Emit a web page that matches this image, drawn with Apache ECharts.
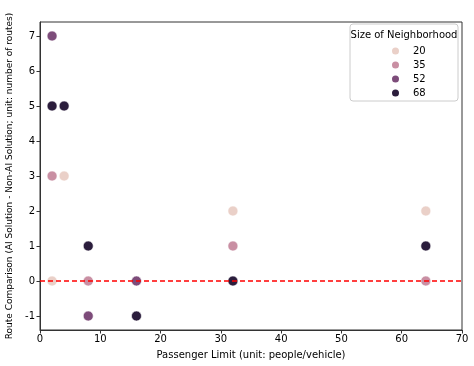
<!DOCTYPE html>
<html><head><meta charset="utf-8">
<script src="https://cdn.jsdelivr.net/npm/echarts@6/dist/echarts.min.js"></script>
<style>html,body{margin:0;padding:0;background:#fff}#c{width:474px;height:366px}</style>
</head><body><div id="c"></div>
<script>
const sizes = ['20', '35', '52', '68'];
const colors = ['#ead0c8', '#c98fa3', '#7d4c7a', '#2b1d3c'];
const s20 = [[2, 0], [4, 3], [32, 2], [64, 2]];
const s35 = [[2, 3], [8, 0], [32, 1], [64, 0]];
const s52 = [[2, 7], [8, -1], [16, 0]];
const s68 = [[2, 5], [4, 5], [8, 1], [16, -1], [32, 0], [64, 1]];
const seriesData = [s20, s35, s52, s68];
const xTicks = [0, 10, 20, 30, 40, 50, 60, 70];
const yTicks = [-1, 0, 1, 2, 3, 4, 5, 6, 7];
const refY = 0;

const font = 'DejaVu Sans';
const chart = echarts.init(document.getElementById('c'), null, {renderer: 'canvas'});
const series = seriesData.map((d, i) => ({
  name: sizes[i], type: 'scatter', data: d, symbolSize: 10, z: 3,
  itemStyle: {color: colors[i], borderColor: '#fff', borderWidth: 0.6, opacity: 1}
}));
series.push({
  type: 'line', data: [], silent: true, z: 2,
  markLine: {symbol: 'none', silent: true, label: {show: false},
    lineStyle: {color: '#ff0000', type: [5, 3], width: 1.5},
    data: [{yAxis: refY}]}
});
chart.setOption({
  animation: false,
  grid: {left: 40, right: 12, top: 22, bottom: 36, show: true, borderColor: '#333', borderWidth: 1,
    outerBoundsMode: 'none', containLabel: false},
  xAxis: {type: 'value', min: 0, max: 70, interval: 10,
    name: 'Passenger Limit (unit: people/vehicle)', nameLocation: 'middle', nameGap: 20,
    nameTextStyle: {fontFamily: font, fontSize: 10, color: '#000'},
    axisLine: {show: true, onZero: false, lineStyle: {color: '#333'}},
    axisTick: {show: true, length: 3.5, lineStyle: {color: '#333'}, customValues: xTicks},
    axisLabel: {fontFamily: font, fontSize: 10, color: '#000', margin: 4, customValues: xTicks},
    splitLine: {show: false}},
  yAxis: {type: 'value', min: -1.4, max: 7.4,
    name: 'Route Comparison (AI Solution - Non-AI Solution; unit: number of routes)', nameLocation: 'middle', nameGap: 26,
    nameTextStyle: {fontFamily: font, fontSize: 9, color: '#000'},
    axisLine: {show: true, onZero: false, lineStyle: {color: '#333'}},
    axisTick: {show: true, length: 3.5, lineStyle: {color: '#333'}, customValues: yTicks},
    axisLabel: {fontFamily: font, fontSize: 10, color: '#000', margin: 5, customValues: yTicks},
    splitLine: {show: false}},
  legend: {orient: 'vertical', left: 385, top: 40, itemWidth: 9, itemHeight: 9, itemGap: 2, icon: 'circle',
    data: sizes, z: 10,
    textStyle: {fontFamily: font, fontSize: 10, color: '#000', lineHeight: 12, padding: [0, 0, 0, 8]}},
  graphic: [
    {type: 'rect', z: 5, shape: {x: 350, y: 24, width: 108, height: 77, r: 3},
     style: {fill: '#fff', stroke: '#cccccc', lineWidth: 1}},
    {type: 'text', z: 6, x: 404, y: 35, style: {text: 'Size of Neighborhood', fontFamily: font, fontSize: 10,
      fill: '#000', align: 'center', verticalAlign: 'middle'}}
  ],
  series: series
});
</script></body></html>
